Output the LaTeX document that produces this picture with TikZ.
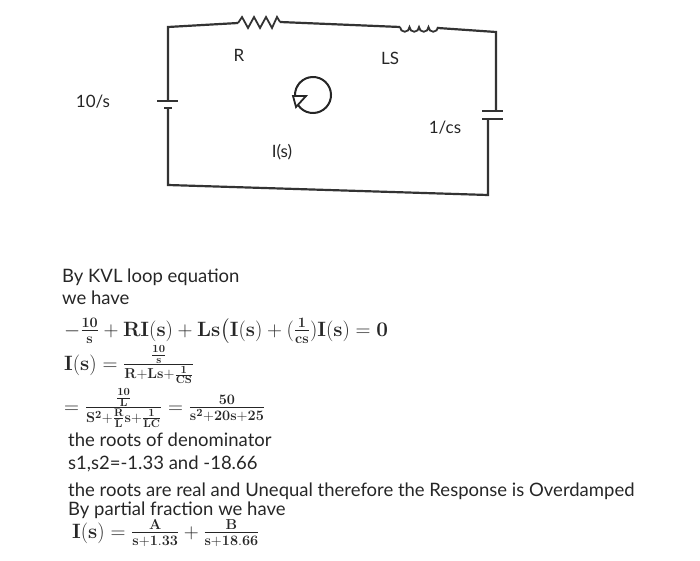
\documentclass[tikz,border=0pt]{standalone}
\usepackage{amsmath}
\usepackage[no-math]{fontspec}
\setmainfont{Lato}
\usetikzlibrary{decorations.pathmorphing,arrows.meta}
\begin{document}
\begin{tikzpicture}[x=1pt,y=-1pt,
  wire/.style={line width=2.2pt,color=black!80},
  lbl/.style={font=\fontsize{17}{20}\selectfont,color=black!85},
  txt/.style={font=\fontsize{18.5}{20}\selectfont,color=black!85,anchor=base west,inner sep=0},
  mth/.style={font=\fontsize{22}{22}\selectfont,color=black!85,anchor=base west,inner sep=0}]
\useasboundingbox (0,0) rectangle (700,561);
% wires
\coordinate (tl) at (168,27);
\coordinate (r1) at (238,23);
\coordinate (r2) at (280,22);
\coordinate (l1) at (400,27);
\coordinate (l2) at (438,28);
\coordinate (tr) at (496,32);
\coordinate (br) at (488,195);
\coordinate (bl) at (168,185);
\draw[wire] (r1) -- (tl) -- (168,101);
\draw[wire] (168,108) -- (bl) -- (br) -- (488,119);
\draw[wire] (496,111) -- (tr) -- (l2);
\draw[wire] (r2) -- (l1);
% resistor
\draw[wire,line width=1.8pt] (r1) -- (242,17) -- (248,28) -- (254,17) -- (260,28) -- (266,17) -- (272,28) -- (277,17) -- (r2);
% inductor
\draw[wire,line width=1.8pt] (l1) arc[start angle=180,end angle=0,radius=4.75] arc[start angle=180,end angle=0,radius=4.75] arc[start angle=180,end angle=0,radius=4.75] arc[start angle=180,end angle=0,radius=4.75];
% battery
\draw[wire] (157,101) -- (178,101);
\draw[wire] (164,108) -- (172,108);
% capacitor
\draw[wire] (482,111) -- (503,111);
\draw[wire] (482,119) -- (503,119);
% labels
\node[lbl] (vs) at (93,102) {10/s};
\node[lbl] (R) at (239,55) {R};
\node[lbl] (LS) at (390,58) {LS};
\node[lbl] (C) at (445,128) {1/cs};
\node[lbl] (I) at (282,152) {I(s)};
\draw[line width=2pt,color=black!85] (313,95) ++(235:18) arc[start angle=235,end angle=-155,radius=18];
\draw[line width=1.8pt,color=black!85,fill=white] (293,96) -- (306,96) -- (296,107) -- cycle;
% text
\node[txt] (t1) at (62,282) {By KVL loop equation};
\node[txt] (t2) at (62,304) {we have};
\node[mth] (m1) at (64,336) {$-\frac{\mathbf{10}}{\mathbf{s}}+\mathbf{RI(s)}+\mathbf{Ls}\bigl(\mathbf{I(s)}+(\tfrac{\mathbf1}{\mathbf{cs}})\mathbf{I(s)}=\mathbf0$};
\node[mth] (m2) at (64,370) {$\mathbf{I(s)}=\frac{\frac{\mathbf{10}}{\mathbf s}}{\mathbf{R{+}Ls{+}}\frac{\mathbf1}{\mathbf{CS}}}$};
\node[mth] (m3) at (64,413) {$=\frac{\frac{\mathbf{10}}{\mathbf L}}{\mathbf{S^2{+}}\frac{\mathbf R}{\mathbf L}\mathbf{s{+}}\frac{\mathbf1}{\mathbf{LC}}}=\frac{\mathbf{50}}{\mathbf{s^2{+}20s{+}25}}$};
\node[txt] (t3) at (68,446) {the roots of denominator};
\node[txt] (t4) at (68,469) {s1,s2=-1.33 and -18.66};
\node[txt] (t5) at (68,496) {the roots are real and Unequal therefore the Response is Overdamped};
\node[txt] (t6) at (68,515) {By partial fraction we have};
\node[mth] (m4) at (72,538) {$\mathbf{I(s)}=\frac{\mathbf A}{\mathbf{s{+}1.33}}+\frac{\mathbf B}{\mathbf{s{+}18.66}}$};
\end{tikzpicture}
\end{document}
